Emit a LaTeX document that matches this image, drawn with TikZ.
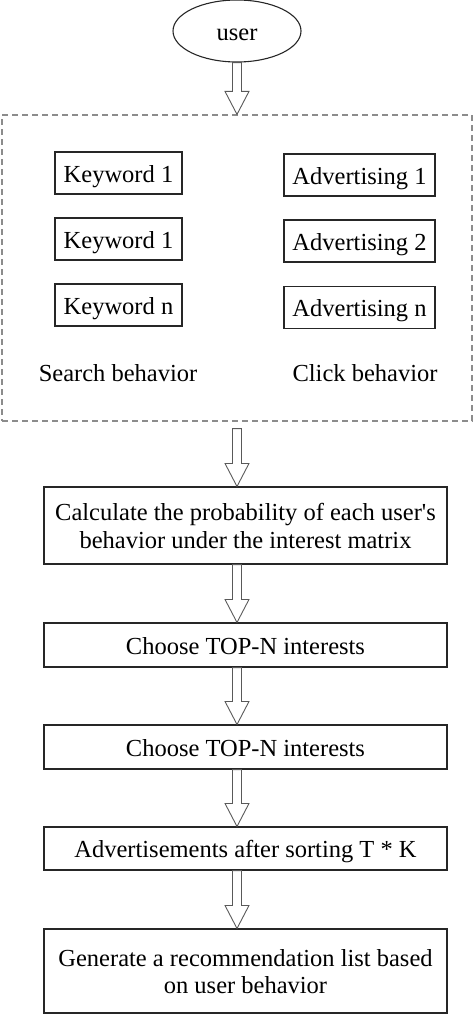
\documentclass[tikz,border=0pt]{standalone}
\usepackage{fontspec}
\setmainfont{Liberation Serif}
\usetikzlibrary{shapes.geometric,calc}

\begin{document}
\begin{tikzpicture}[x=1pt,y=-1pt,
    every node/.style={font=\fontsize{24.5}{27.5}\selectfont,text height=18pt,text depth=0pt},
    item/.style={draw=black!85,line width=1.1pt,minimum height=42pt,inner sep=0pt},
    stage/.style={draw=black!85,line width=1.1pt,minimum width=403pt,align=center,inner sep=0pt},
    twoline/.style={text height=45.5pt},
    fatarrow/.style={draw=black!65,fill=black!12,line width=0.9pt,line join=miter,
      to path={($(\tikztostart)+(-4.5,0)$) -- ($(\tikztotarget)+(-4.5,-23)$)
        -- ($(\tikztotarget)+(-12,-23)$) -- (\tikztotarget)
        -- ($(\tikztotarget)+(12,-23)$) -- ($(\tikztotarget)+(4.5,-23)$)
        -- ($(\tikztostart)+(4.5,0)$) -- cycle}}]
  \useasboundingbox (0,0) rectangle (474,1015);
  \node[ellipse,draw=black!85,line width=1.1pt,minimum width=128pt,minimum height=62pt,inner sep=0pt] (user) at (237,31) {user};
  \node[draw=black!45,dash pattern=on 6pt off 4pt,line width=1.2pt,minimum width=470pt,minimum height=306pt] (behaviors) at (237,268) {};
  % search side
  \node[item,minimum width=127pt] (kw1) at (118.5,173) {Keyword 1};
  \node[item,minimum width=127pt] (kw2) at (118.5,239) {Keyword 1};
  \node[item,minimum width=127pt] (kwn) at (118.5,305) {Keyword n};
  \node (search) at (118,372) {Search behavior};
  % click side
  \node[item,minimum width=151pt] (ad1) at (359.5,175) {Advertising 1};
  \node[item,minimum width=151pt] (ad2) at (359.5,241) {Advertising 2};
  \node[item,minimum width=151pt] (adn) at (359.5,307.5) {Advertising n};
  \node (click) at (365,372) {Click behavior};
  % pipeline
  \node[stage,twoline,minimum height=77pt] (prob) at (245.5,525.5) {Calculate the probability of each user\textquotesingle s\\behavior under the interest matrix};
  \node[stage,minimum height=44pt] (top1) at (245.5,645) {Choose TOP-N interests};
  \node[stage,minimum height=44pt] (top2) at (245.5,747) {Choose TOP-N interests};
  \node[stage,minimum height=43pt] (sorted) at (245.5,848.5) {Advertisements after sorting T * K};
  \node[stage,twoline,minimum height=84pt] (genlist) at (245.5,971) {Generate a recommendation list based\\on user behavior};
  \begin{scope}[fatarrow]
    \draw (user.south) to (behaviors.north);
    \draw ([yshift=-7pt]behaviors.south) to (prob.north -| user);
    \draw (prob.south -| user) to (top1.north -| user);
    \draw (top1.south -| user) to (top2.north -| user);
    \draw (top2.south -| user) to (sorted.north -| user);
    \draw (sorted.south -| user) to (genlist.north -| user);
  \end{scope}
\end{tikzpicture}
\end{document}
